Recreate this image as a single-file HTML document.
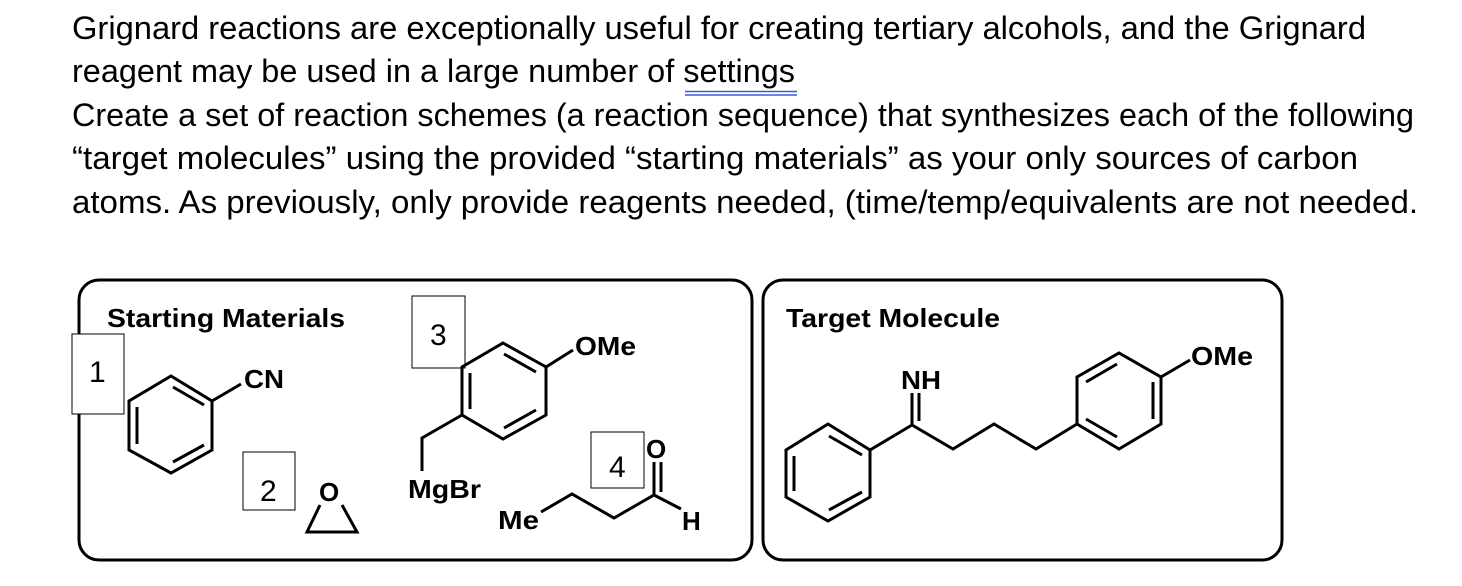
<!DOCTYPE html>
<html><head><meta charset="utf-8"><style>
html,body{margin:0;padding:0;background:#fff;}
svg{display:block;}
.h{font-family:"Liberation Sans",sans-serif;font-size:32px;fill:#000;}
.b{font-family:"Liberation Sans",sans-serif;font-weight:bold;fill:#000;}
.n{font-family:"Liberation Sans",sans-serif;font-size:30px;fill:#000;}
</style></head><body>
<svg width="1462" height="586" viewBox="0 0 1462 586" xmlns="http://www.w3.org/2000/svg">
<text class="h" x="72" y="39" textLength="1294" lengthAdjust="spacingAndGlyphs">Grignard reactions are exceptionally useful for creating tertiary alcohols, and the Grignard</text>
<text class="h" x="72" y="82" textLength="723" lengthAdjust="spacingAndGlyphs">reagent may be used in a large number of settings</text>
<line x1="685" y1="91.5" x2="797" y2="91.5" stroke="#3b5bd6" stroke-width="1.6"/>
<line x1="685" y1="95" x2="797" y2="95" stroke="#3b5bd6" stroke-width="1.6"/>
<text class="h" x="72" y="126" textLength="1342" lengthAdjust="spacingAndGlyphs">Create a set of reaction schemes (a reaction sequence) that synthesizes each of the following</text>
<text class="h" x="72" y="169" textLength="1286" lengthAdjust="spacingAndGlyphs">“target molecules” using the provided “starting materials” as your only sources of carbon</text>
<text class="h" x="72" y="213" textLength="1346" lengthAdjust="spacingAndGlyphs">atoms. As previously, only provide reagents needed, (time/temp/equivalents are not needed.</text>

<g fill="none" stroke="#000" stroke-width="3">
<rect x="79" y="280" width="673" height="280" rx="20"/>
<rect x="763" y="280" width="519" height="280" rx="20"/>
</g>
<g fill="#fff" stroke="#000" stroke-width="1">
<rect x="72" y="334" width="52" height="80"/>
<rect x="243" y="452" width="52" height="58"/>
<rect x="412" y="296" width="53" height="72"/>
<rect x="591" y="432" width="53" height="56"/>
</g>
<text class="n" x="89" y="382">1</text>
<text class="n" x="260" y="501">2</text>
<text class="n" x="430" y="345">3</text>
<text class="n" x="609" y="477">4</text>

<text class="b" x="107" y="327" font-size="26" textLength="238" lengthAdjust="spacingAndGlyphs">Starting Materials</text>
<text class="b" x="786" y="327" font-size="26" textLength="214" lengthAdjust="spacingAndGlyphs">Target Molecule</text>

<g fill="none" stroke="#000" stroke-width="3" stroke-linejoin="miter" stroke-linecap="butt">
<polygon points="171,376 212,401 212,450 171,473 129,450 129,401"/>
<line x1="137" y1="407" x2="137" y2="444"/>
<line x1="173" y1="387" x2="204" y2="405"/>
<line x1="173" y1="462" x2="204" y2="445"/>
<line x1="212" y1="401" x2="241" y2="384"/>
<polyline points="320,505 307,532 357,532 342,505"/>
<polygon points="503,343 546,367 546,415 503,439 462,415 462,367"/>
<line x1="470" y1="373" x2="470" y2="409"/>
<line x1="504" y1="354" x2="536" y2="372"/>
<line x1="504" y1="428" x2="536" y2="410"/>
<line x1="546" y1="367" x2="573" y2="350"/>
<polyline points="462,415 422,438 422,471"/>
<polyline points="541,512 572,494 614,518 654,495 681,509"/>
<line x1="654" y1="495" x2="654" y2="462"/>
<line x1="661" y1="492" x2="661" y2="462"/>
<polygon points="828,424 870,450 870,497 828,521 786,497 786,450"/>
<line x1="794" y1="456" x2="794" y2="491"/>
<line x1="829" y1="436" x2="862" y2="455"/>
<line x1="829" y1="510" x2="862" y2="492"/>
<polyline points="870,450 912,425 953,449 994,424 1036,449 1077,424"/>
<line x1="912" y1="425" x2="912" y2="393"/>
<line x1="919" y1="421" x2="919" y2="393"/>
<polygon points="1077,424 1077,377 1119,353 1161,377 1161,424 1119,449"/>
<line x1="1086" y1="382" x2="1117" y2="364"/>
<line x1="1153" y1="382" x2="1153" y2="419"/>
<line x1="1086" y1="419" x2="1117" y2="437"/>
<line x1="1161" y1="377" x2="1190" y2="360"/>
</g>
<g font-size="26">
<text x="244" y="388" class="b" textLength="40" lengthAdjust="spacingAndGlyphs">CN</text>
<text x="319" y="501" class="b">O</text>
<text x="575" y="355" class="b" textLength="61" lengthAdjust="spacingAndGlyphs">OMe</text>
<text x="408" y="498" class="b" textLength="73" lengthAdjust="spacingAndGlyphs">MgBr</text>
<text x="498" y="529" class="b" textLength="41" lengthAdjust="spacingAndGlyphs">Me</text>
<text x="646" y="458" class="b">O</text>
<text x="682" y="530" class="b">H</text>
<text x="901" y="389" class="b" textLength="40" lengthAdjust="spacingAndGlyphs">NH</text>
<text x="1191" y="365" class="b" textLength="62" lengthAdjust="spacingAndGlyphs">OMe</text>
</g>
</svg>
</body></html>
